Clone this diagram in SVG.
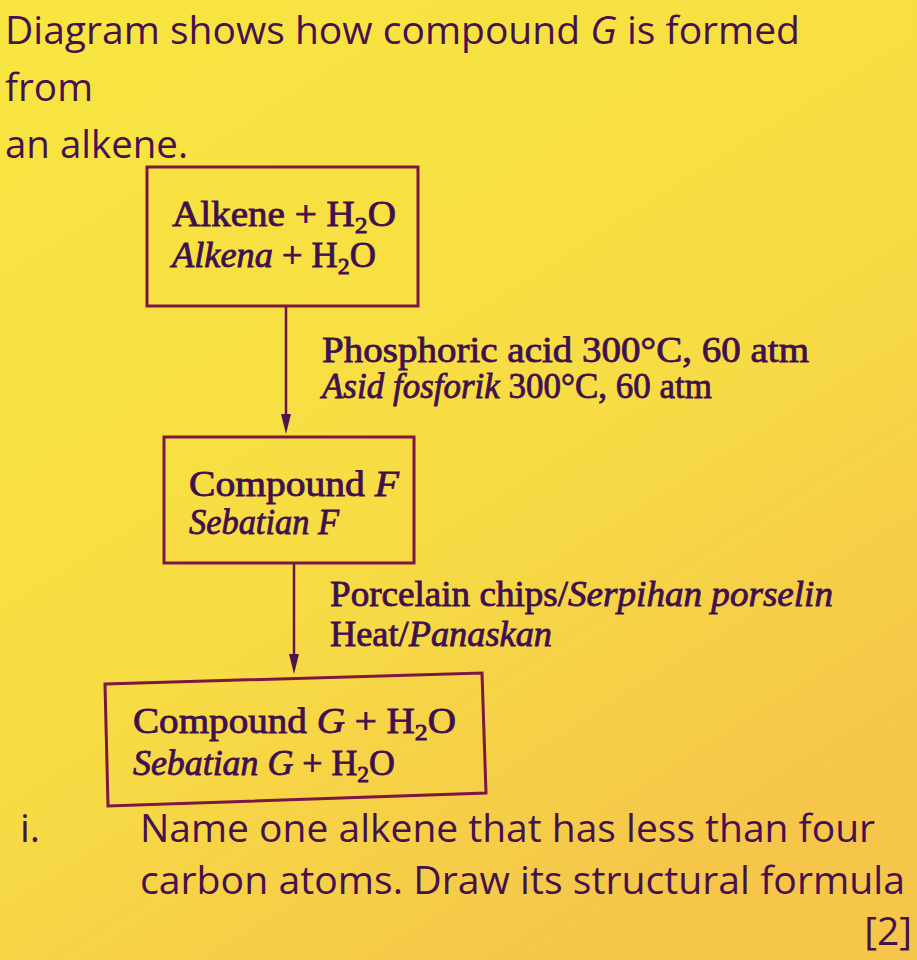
<svg xmlns="http://www.w3.org/2000/svg" width="917" height="960" viewBox="0 0 917 960">
<defs>
<linearGradient id="bg" x1="0" y1="0" x2="0.6" y2="1">
<stop offset="0" stop-color="#f8e640"/>
<stop offset="0.6" stop-color="#f7dc44"/>
<stop offset="1" stop-color="#f5c64a"/>
</linearGradient>
<style>
.sans{font-family:"Open Sans","Liberation Sans",sans-serif;fill:#45124e;font-size:39px}
.serif{font-family:"Liberation Serif","DejaVu Serif",serif;fill:#40104e;stroke:#40104e;stroke-width:0.8;font-size:35px}
.it{font-style:italic}
.box{fill:none;stroke:#7c1642;stroke-width:3}
.conn{stroke:#6a1445;stroke-width:2.5;fill:none}
.head{fill:#4a1650}
</style>
</defs>
<rect width="917" height="960" fill="url(#bg)"/>

<g id="title">
<text class="sans" x="5" y="44" textLength="795" lengthAdjust="spacingAndGlyphs">Diagram shows how compound <tspan class="it">G</tspan> is formed</text>
<text class="sans" x="5" y="101" textLength="88" lengthAdjust="spacingAndGlyphs">from</text>
<text class="sans" x="5" y="158" textLength="183" lengthAdjust="spacingAndGlyphs">an alkene.</text>
</g>

<g id="connectors">
<line class="conn" x1="286" y1="306" x2="286" y2="416"/>
<path class="head" d="M281,414 L291,414 L286,434 Z"/>
<line class="conn" x1="294" y1="563" x2="294" y2="656"/>
<path class="head" d="M289,654 L299,654 L294,674 Z"/>
</g>

<g id="node-alkene">
<rect class="box" x="147" y="167" width="271" height="139"/>
<text class="serif" x="172" y="226" textLength="224" lengthAdjust="spacingAndGlyphs">Alkene + H<tspan dy="7" font-size="23">2</tspan><tspan dy="-7">O</tspan></text>
<text class="serif" x="172" y="267" textLength="204" lengthAdjust="spacingAndGlyphs"><tspan class="it">Alkena</tspan> + H<tspan dy="7" font-size="23">2</tspan><tspan dy="-7">O</tspan></text>
</g>

<g id="label-1">
<text class="serif" x="322" y="362" textLength="487" lengthAdjust="spacingAndGlyphs">Phosphoric acid 300°C, 60 atm</text>
<text class="serif" x="322" y="398" textLength="390" lengthAdjust="spacingAndGlyphs" font-size="32"><tspan class="it">Asid fosforik</tspan> 300°C, 60 atm</text>
</g>

<g id="node-F">
<rect class="box" x="164" y="437" width="250" height="126"/>
<text class="serif" x="189" y="496" textLength="210" lengthAdjust="spacingAndGlyphs">Compound <tspan class="it">F</tspan></text>
<text class="serif it" x="189" y="534" textLength="150" lengthAdjust="spacingAndGlyphs">Sebatian F</text>
</g>

<g id="label-2">
<text class="serif" x="330" y="606" textLength="503" lengthAdjust="spacingAndGlyphs">Porcelain chips/<tspan class="it">Serpihan porselin</tspan></text>
<text class="serif" x="330" y="646" textLength="222" lengthAdjust="spacingAndGlyphs">Heat/<tspan class="it">Panaskan</tspan></text>
</g>

<g id="node-G">
<path class="box" d="M105,684 L482,673 L486,793 L108,806 Z"/>
<text class="serif" x="133" y="733" textLength="323" lengthAdjust="spacingAndGlyphs">Compound <tspan class="it">G</tspan> + H<tspan dy="7" font-size="23">2</tspan><tspan dy="-7">O</tspan></text>
<text class="serif" x="133" y="775" textLength="262" lengthAdjust="spacingAndGlyphs"><tspan class="it">Sebatian G</tspan> + H<tspan dy="7" font-size="23">2</tspan><tspan dy="-7">O</tspan></text>
</g>

<g id="question">
<text class="sans" x="20" y="842">i.</text>
<text class="sans" x="140" y="842" textLength="735" lengthAdjust="spacingAndGlyphs">Name one alkene that has less than four</text>
<text class="sans" x="140" y="894" textLength="765" lengthAdjust="spacingAndGlyphs">carbon atoms. Draw its structural formula</text>
<text class="sans" x="912" y="945" text-anchor="end">[2]</text>
</g>
</svg>
